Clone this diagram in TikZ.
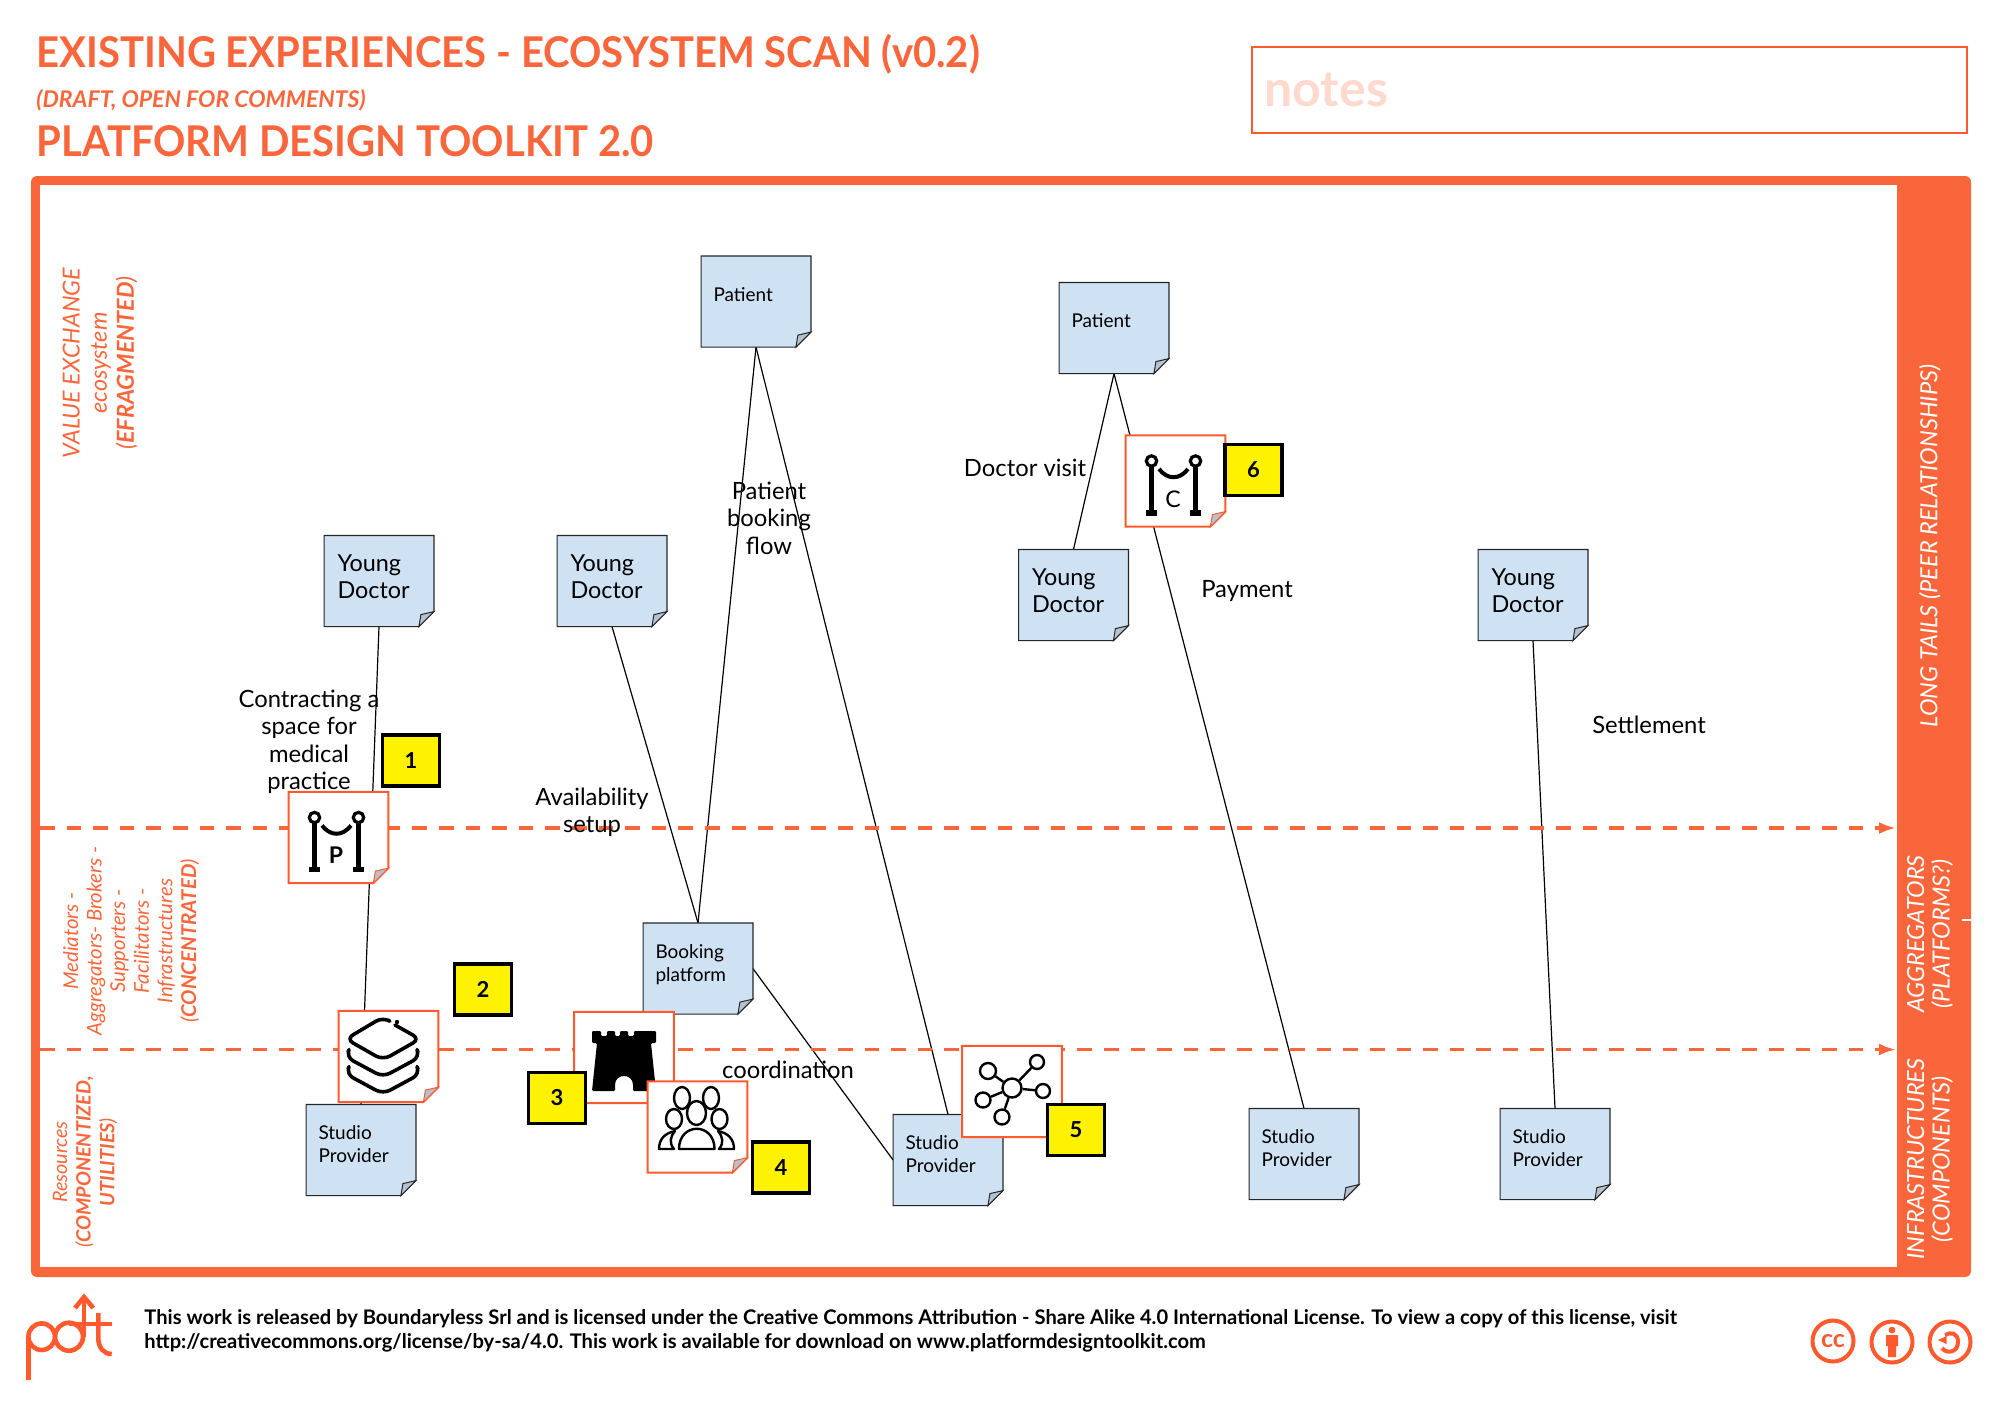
\documentclass[tikz,border=0pt]{standalone}
\usepackage{fontspec}
\setmainfont{Lato}
\newfontfamily\headfont[FakeStretch=0.945]{Lato}
\usetikzlibrary{
  arrows.meta,
  backgrounds,
}
\definecolor{pdt}{HTML}{F9663C}
\definecolor{pdtline}{HTML}{FF5A2E}
\definecolor{paper}{HTML}{CFE2F3}
\definecolor{fold}{HTML}{B4C2CF}

\tikzset{
  sheet/.style n args={3}{
      rectangle, inner sep=0pt,
      append after command={
          \pgfextra{
            \draw[draw=#1, fill=#2, line width=#3]
            (\tikzlastnode.north west) -- (\tikzlastnode.north east) --
            ([yshift=7.5pt]\tikzlastnode.south east) --
            ([xshift=-7.5pt]\tikzlastnode.south east) --
            (\tikzlastnode.south west) -- cycle;
            \draw[draw=#1, fill=fold, line width=.5pt]
            ([yshift=7.5pt]\tikzlastnode.south east) --
            ([xshift=-7.5pt]\tikzlastnode.south east) --
            ([shift={(-6.5pt,6pt)}]\tikzlastnode.south east) -- cycle;
          }
        },
    },
  note/.style={minimum width=54.5pt, minimum height=45.2pt, sheet={black!85}{paper}{.6pt}},
  icon/.style={minimum width=49.5pt, minimum height=45.2pt, sheet={pdtline}{white}{1pt}},
  big/.style={anchor=north west, inner sep=0pt, align=left, font=\fontsize{11.7}{13.5}\selectfont},
  small/.style={anchor=north west, inner sep=0pt, align=left, font=\fontsize{9.5}{11.5}\selectfont},
  lab/.style={inner sep=0pt, align=center, font=\fontsize{11.9}{13.7}\selectfont},
  badge/.style={draw=black, fill=yellow, line width=1.7pt, minimum width=28.5pt, minimum height=25.5pt,
      inner sep=0pt, font=\fontsize{11}{13}\bfseries\selectfont},
  side/.style={rotate=90, inner sep=0pt, align=center, pdt, font=\fontsize{10.2}{11.8}\itshape\selectfont},
  bar/.style={rotate=90, inner sep=0pt, align=center, white, font=\fontsize{11.8}{12.75}\itshape\selectfont},
  head/.style={anchor=west, inner sep=0pt, pdt, font=\fontsize{21.2}{24}\headfont\bfseries\selectfont},
  link/.style={line width=.6pt, black},
  level/.style={line width=1.7pt, pdt, dash pattern=on 7.3pt off 6pt, -{Latex[length=8.5pt,width=6pt]}},
  ico/.style={line width=1.3pt, black, line cap=round, line join=round},
  hub/.style={draw=black, fill=white, circle, line width=1.2pt, inner sep=0pt},
  ccring/.style={draw=pdtline, circle, line width=2pt, minimum size=20.5pt, inner sep=0pt},
  pics/stanchion/.style={
      code={
          \draw[line width=2.4pt, black] (-24,-20) -- (-24,31);
          \draw[line width=2.4pt, black] (20,-20) -- (20,31);
          \draw[line width=2.6pt, black] (-29.5,32) -- (-18.5,32);
          \draw[line width=2.6pt, black] (14.5,32) -- (25.5,32);
          \draw[line width=1.6pt, black, fill=white] (-24,-20) circle[radius=2.6pt];
          \draw[line width=1.6pt, black, fill=white] (20,-20) circle[radius=2.6pt];
          \draw[line width=2pt, black] (-16.5,-12) .. controls (-8,-1) and (4,-1) .. (12.5,-12);
          \node[inner sep=0pt, font=\fontsize{11.5}{13}\selectfont] at (-2.5,18) {#1};
        }
    },
}

\begin{document}
\begin{tikzpicture}[x=.5pt, y=-.5pt]
  \useasboundingbox (0,0) rectangle (2000,1414);

  % frame and right column
  \begin{scope}[on background layer]
    \fill[pdt, rounded corners=3pt] (31,176) rectangle (1971,1277);
    \fill[white] (40,185) rectangle (1897,1267);
  \end{scope}
  \draw[white, line width=1pt] (1962,920) -- (1971,920);

  % heading
  \node[head] (title) at (36,54.5) {EXISTING EXPERIENCES - ECOSYSTEM SCAN (v0.2)};
  \node[head, font=\fontsize{11.5}{14}\bfseries\itshape\selectfont] (draft) at (36,100) {(DRAFT, OPEN FOR COMMENTS)};
  \node[head] (toolkit) at (36,141.5) {PLATFORM DESIGN TOOLKIT 2.0};
  \draw[pdtline, line width=1pt] (1252,47) rectangle (1967,133);
  \node[head, pdt!25, font=\fontsize{25}{28}\bfseries\selectfont] (notes) at (1264,90) {notes};

  % sheets
  \foreach \n/\x/\y/\txt in {yd1/379/581/{Young\\Doctor},yd2/612/581/{Young\\Doctor},
      yd3/1073.5/595/{Young\\Doctor},yd4/1533/595/{Young\\Doctor}} {
      \node[note] (\n) at (\x,\y) {};
      \node[big] (\n t) at ([shift={(13,18.5)}]\n.north west) {\txt};
    }
  \foreach \n/\x/\y/\txt in {pa1/756/301.5/{Patient},pa2/1114/328/{Patient}} {
      \node[note] (\n) at (\x,\y) {};
      \node[small] (\n t) at ([shift={(12,31)}]\n.north west) {\txt};
    }
  \foreach \n/\x/\y/\txt in {bk/698/968.5/{Booking\\platform},sp1/361/1150/{Studio\\Provider},
      sp2/948/1160/{Studio\\Provider},sp3/1304/1154/{Studio\\Provider},sp4/1555/1154/{Studio\\Provider}} {
      \node[note] (\n) at (\x,\y) {};
      \node[small] (\n t) at ([shift={(12,21)}]\n.north west) {\txt};
    }

  % connectors, under the sheets
  \begin{scope}[on background layer]
    \draw[link] (yd1.south) -- (sp1.north);
    \draw[link] (yd2.south) -- (bk.north);
    \draw[link] (pa1.south) -- (bk.north);
    \draw[link] (pa1.south) -- (sp2.north);
    \draw[link] (bk.east) -- (sp2.west);
    \draw[link] (pa2.south) -- (yd3.north);
    \draw[link] (pa2.south) -- (sp3.north);
    \draw[link] (yd4.south) -- (sp4.north);
    \coordinate (a1) at (40,828);
    \coordinate (b1) at (1896,828);
    \coordinate (a2) at (40,1049.5);
    \coordinate (b2) at (1896,1049.5);
    \draw[level] (a1) -- (b1);
    \draw[level] (a2) -- (b2);
  \end{scope}

  % icon sheets
  \node[icon] (ip) at (338.5,837.5) {};
  \pic at (ip) {stanchion={\textbf{P}}};
  \node[icon] (is) at (388.5,1056.5) {};
  \begin{scope}[shift={(383,1039)}]
    \draw[ico, line width=1.8pt, rounded corners=4pt] (5,-19) -- (0,-22) -- (-37,0) -- (0,21) -- (37,0) -- (12,-14);
    \fill (14,-17) circle[radius=1.1pt];
    \draw[ico, line width=1.8pt, rounded corners=4pt] (-35,13) -- (-37,18) -- (0,38) -- (37,18) -- (35,13);
    \draw[ico, line width=1.8pt, rounded corners=4pt] (-35,30) -- (-37,35) -- (0,55) -- (37,35) -- (35,30);
  \end{scope}
  \node[icon] (ic) at (624,1057.5) {};
  \fill[black, rounded corners=.6pt] (592,1031) -- (601,1031) -- (601,1036) -- (607,1036) -- (607,1031)
  -- (615,1031) -- (615,1036) -- (620,1036) -- (620,1031) -- (628,1031) -- (628,1036) -- (634,1036)
  -- (634,1031) -- (656,1031) -- (656,1043) -- (651,1043) -- (656,1091) -- (633,1091) -- (633,1086)
  .. controls (633,1073) and (615,1073) .. (615,1086) -- (615,1091) -- (592,1091) -- (597,1043) -- (592,1043) -- cycle;
  \node[icon] (ig) at (697.5,1127) {};
  \begin{scope}[ico, line width=1.2pt]
    \draw (682,1098) ellipse[x radius=8, y radius=11];
    \draw (711,1098) ellipse[x radius=8, y radius=11];
    \draw (696.5,1113) ellipse[x radius=9.5, y radius=12];
    \draw (674,1119) ellipse[x radius=8, y radius=10];
    \draw (719.5,1119) ellipse[x radius=8, y radius=10];
    \draw (679,1149) .. controls (679,1122) and (714.5,1122) .. (714.5,1149) -- cycle;
    \draw (659,1149) .. controls (659,1139) and (665,1133) .. (675,1131) .. controls (670,1137) and (669,1143) .. (674,1149) -- cycle;
    \draw (734,1149) .. controls (734,1139) and (728,1133) .. (718,1131) .. controls (723,1137) and (724,1143) .. (719,1149) -- cycle;
  \end{scope}
  \node[icon] (in) at (1012,1091.5) {};
  \node[hub, minimum size=9.5pt] (nc) at (1012,1088) {};
  \foreach \i/\x/\y/\s in {1/988/1071/8,2/1037/1062/7,3/1043/1091/7,4/983/1100/7.5,5/1002/1117/7.5} {
      \node[hub, minimum size=\s pt] (n\i) at (\x,\y) {};
      \draw[line width=1.2pt] (nc) -- (n\i);
    }
  \node[icon] (iv) at (1175.5,481) {};
  \pic at (iv) {stanchion={C}};

  % step numbers
  \foreach \i/\x/\y in {1/411/760.5,2/483/989.5,3/557/1098,4/781/1167.5,5/1076/1130,6/1253.5/470} {
      \node[badge] (s\i) at (\x,\y) {\i};
    }

  % labels
  \node[lab] (contract) at (309,742) {Contracting a\\space for\\medical\\practice};
  \node[lab] (avail) at (592,812.5) {Availability\\setup};
  \node[lab] (booking) at (769,518) {Patient\\booking\\flow};
  \node[lab] (visit) at (1025,468) {Doctor visit};
  \node[lab] (pay) at (1247,591) {Payment};
  \node[lab] (settle) at (1649,725) {Settlement};
  \node[lab] (coord) at (788,1070) {coordination};

  % left column
  \node[side, font=\fontsize{11.7}{13.6}\itshape\selectfont] (vx) at (100,363) {VALUE EXCHANGE\\ecosystem\\(\textbf{EFRAGMENTED})};
  \node[side] (me) at (131,941) {Mediators -\\Aggregators- Brokers -\\Supporters -\\Facilitators -\\Infrastructures\\(\textbf{CONCENTRATED})};
  \node[side, font=\fontsize{9.9}{11.8}\itshape\selectfont] (re) at (85,1162) {Resources\\(\textbf{COMPONENTIZED,}\\\textbf{UTILITIES})};

  % right column
  \node[bar] (lt) at (1930,546) {LONG TAILS (PEER RELATIONSHIPS)};
  \node[bar] (ag) at (1930,934) {AGGREGATORS\\(PLATFORMS?)};
  \node[bar] (inf) at (1930,1159) {INFRASTRUCTURES\\(COMPONENTS)};

  % footer
  \node[anchor=north west, inner sep=0pt, align=left, font=\fontsize{10.07}{12}\bfseries\selectfont] (lic) at (144,1309)
  {This work is released by Boundaryless Srl and is licensed under the Creative Commons Attribution - Share Alike 4.0 International License. To view a copy of this license, visit\\
    http://creativecommons.org/license/by-sa/4.0. This work is available for download on www.platformdesigntoolkit.com};

  % logo
  \begin{scope}[pdtline, line width=2.3pt]
    \draw (41.7,1336.7) circle[radius=6.65pt];
    \draw (69,1336.7) circle[radius=7pt];
    \draw (28.3,1380) -- (28.3,1337);
    \draw (84,1337) -- (84,1298);
    \draw (75,1308) -- (84,1297) -- (93.3,1308);
    \draw (69,1324) -- (111.7,1324);
    \draw (98.3,1313) -- (98.3,1338) .. controls (98.3,1348) and (104,1354) .. (111.7,1354);
  \end{scope}

  % licence marks
  \node[ccring, pdtline, font=\fontsize{12.5}{13}\bfseries\selectfont] (cc) at (1833,1341) {cc};
  \node[ccring] (by) at (1892,1342) {};
  \fill[pdtline] (1892,1330) circle[radius=1.7pt];
  \fill[pdtline] (1886,1335) -- (1898,1335) -- (1898,1346) -- (1896,1346) -- (1896,1357) -- (1888,1357) -- (1888,1346) -- (1886,1346) -- cycle;
  \node[ccring] (sa) at (1950,1342) {};
  \draw[pdtline, line width=2pt] (1945,1335) .. controls (1950,1332) and (1958,1332) .. (1958,1342)
  .. controls (1958,1353) and (1946,1354) .. (1942,1348);
  \fill[pdtline] (1938,1340) -- (1946.5,1336) -- (1946.5,1344) -- cycle;
\end{tikzpicture}
\end{document}
